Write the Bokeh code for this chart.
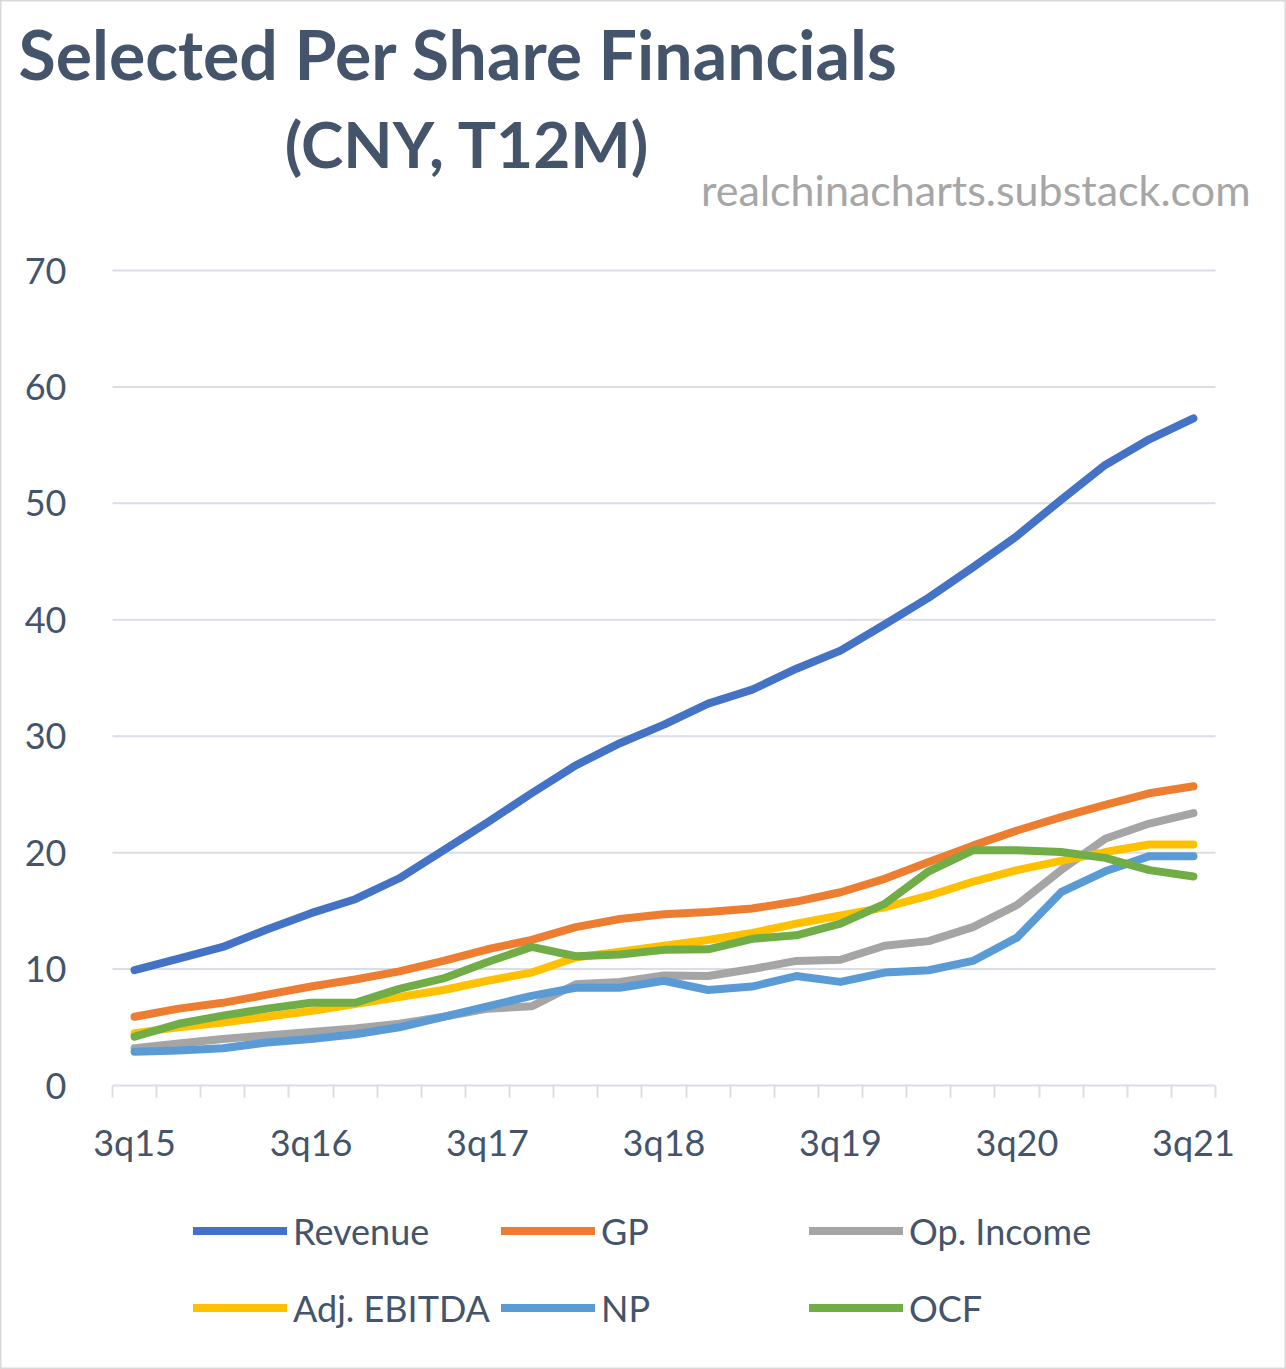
from bokeh.plotting import figure
from bokeh.models import Label, Legend, LegendItem, FixedTicker, Range1d
from bokeh.embed import file_html
from bokeh.resources import INLINE

quarters = ["3q15", "4q15", "1q16", "2q16", "3q16", "4q16", "1q17", "2q17", "3q17", "4q17",
            "1q18", "2q18", "3q18", "4q18", "1q19", "2q19", "3q19", "4q19", "1q20", "2q20",
            "3q20", "4q20", "1q21", "2q21", "3q21"]
revenue = [9.9, 10.9, 11.9, 13.4, 14.8, 16.0, 17.8, 20.2, 22.6, 25.1, 27.5, 29.4, 31.0, 32.8,
           34.0, 35.8, 37.35, 39.6, 41.9, 44.5, 47.2, 50.3, 53.3, 55.5, 57.3]
gp = [5.9, 6.6, 7.1, 7.8, 8.5, 9.1, 9.8, 10.7, 11.7, 12.5, 13.6, 14.3, 14.7, 14.9, 15.2, 15.8,
      16.6, 17.75, 19.2, 20.6, 21.9, 23.05, 24.1, 25.1, 25.7]
op_income = [3.2, 3.6, 4.0, 4.3, 4.6, 4.9, 5.3, 5.9, 6.6, 6.8, 8.7, 8.9, 9.45, 9.4, 10.0, 10.7,
             10.8, 12.0, 12.4, 13.6, 15.5, 18.5, 21.2, 22.5, 23.4]
adj_ebitda = [4.5, 5.0, 5.4, 5.9, 6.4, 7.0, 7.6, 8.2, 9.0, 9.7, 11.0, 11.5, 12.0, 12.5, 13.1,
              13.9, 14.6, 15.3, 16.3, 17.5, 18.5, 19.3, 20.05, 20.7, 20.7]
np_vals = [2.9, 3.0, 3.2, 3.7, 4.0, 4.4, 5.0, 5.9, 6.8, 7.7, 8.4, 8.4, 9.0, 8.2, 8.5, 9.4, 8.9,
           9.7, 9.9, 10.7, 12.7, 16.6, 18.4, 19.7, 19.7]
ocf = [4.2, 5.3, 6.0, 6.6, 7.1, 7.1, 8.3, 9.2, 10.6, 11.9, 11.1, 11.25, 11.65, 11.7, 12.6, 12.9,
       13.9, 15.6, 18.4, 20.2, 20.2, 20.05, 19.55, 18.5, 17.95]

series_names = ["Revenue", "GP", "Op. Income", "Adj. EBITDA", "NP", "OCF"]
series_vals = [revenue, gp, op_income, adj_ebitda, np_vals, ocf]
colors = ["#4472C4", "#ED7D31", "#A5A5A5", "#FFC000", "#5B9BD5", "#70AD47"]
y_ticks = [0, 10, 20, 30, 40, 50, 60, 70]
y_min, y_max = 0, 70

# ---- layout (pixels) ----
W, H = 1286, 1369
PLOT_L, PLOT_R, PLOT_T, PLOT_B = 112, 1215, 270, 1085
FONT = "Lato"
TXT = "#44546A"
GRID = "#D9DEE6"

n = len(quarters)
x0, x1 = -0.5, n - 0.5
xpp = (x1 - x0) / (PLOT_R - PLOT_L)          # data units per pixel
ypp = (y_max - y_min) / (PLOT_B - PLOT_T)
x_range = Range1d(x0 - PLOT_L * xpp, x1 + (W - PLOT_R) * xpp)
y_range = Range1d(y_min - (H - PLOT_B) * ypp, y_max + PLOT_T * ypp)

p = figure(width=W, height=H, output_backend="svg", toolbar_location=None,
           x_range=x_range, y_range=y_range,
           min_border_left=0, min_border_right=0, min_border_top=0, min_border_bottom=0)
p.outline_line_color = "#D9D9D9"
p.outline_line_width = 2
p.background_fill_color = "white"
p.border_fill_color = "white"

xs = list(range(n))

# horizontal gridlines, limited to the plot area
p.xgrid.grid_line_color = None
p.ygrid.grid_line_color = None
grid_ys = y_ticks[1:]
p.segment(x0=[x0] * len(grid_ys), x1=[x1] * len(grid_ys), y0=grid_ys, y1=grid_ys,
          line_color=GRID, line_width=2)

renderers = []
for name, vals, c in zip(series_names, series_vals, colors):
    r = p.line(xs, vals, line_color=c, line_width=8, line_cap="round", line_join="round")
    renderers.append(r)

# x axis, pinned at y = 0
xa = p.xaxis[0]
xa.fixed_location = y_min
xa.bounds = (x0, x1)
xa.ticker = FixedTicker(ticks=[i for i in xs if i % 4 == 0],
                        minor_ticks=[i - 0.5 for i in range(n + 1)])
xa.major_label_overrides = {i: q for i, q in enumerate(quarters) if i % 4 == 0}
xa.major_tick_line_color = None
xa.minor_tick_line_color = GRID
xa.minor_tick_line_width = 2
xa.minor_tick_out = 12
xa.minor_tick_in = 0
xa.axis_line_color = GRID
xa.axis_line_width = 2
xa.major_label_text_font = FONT
xa.major_label_text_font_size = "36px"
xa.major_label_text_color = TXT
xa.major_label_standoff = 22

# y axis, pinned at left edge of the plot area
ya = p.yaxis[0]
ya.fixed_location = x0
ya.bounds = (y_min, y_max)
ya.ticker = FixedTicker(ticks=y_ticks)
ya.axis_line_color = None
ya.major_tick_line_color = None
ya.minor_tick_line_color = None
ya.major_label_text_font = FONT
ya.major_label_text_font_size = "36px"
ya.major_label_text_color = TXT
ya.major_label_standoff = 40

# titles (screen units; frame == canvas, y measured from bottom)
def lab(text, x, ytop, size, color, bold=False, align="left"):
    p.add_layout(Label(x=x, y=H - ytop, x_units="screen", y_units="screen", text=text,
                       text_font=FONT, text_font_size=size, text_color=color,
                       text_font_style="bold" if bold else "normal",
                       text_align=align, text_baseline="top"))

lab("Selected Per Share Financials", 18, 12, "68px", TXT, bold=True)
lab("(CNY, T12M)", 467, 104, "64px", TXT, bold=True, align="center")
lab("realchinacharts.substack.com", 1250, 163, "43px", "#A6A6A6", align="right")

legend = Legend(items=[LegendItem(label=nm, renderers=[r]) for nm, r in zip(series_names, renderers)],
                orientation="horizontal", ncols=3, location=(193, 27),
                label_text_font=FONT, label_text_font_size="36px", label_text_color=TXT,
                glyph_width=94, glyph_height=69, label_height=69, label_width=200,
                label_standoff=6, spacing=8, padding=0, margin=0,
                border_line_alpha=0, background_fill_alpha=0)
p.add_layout(legend, "center")

open("out.html", "w").write(file_html(p, INLINE))
